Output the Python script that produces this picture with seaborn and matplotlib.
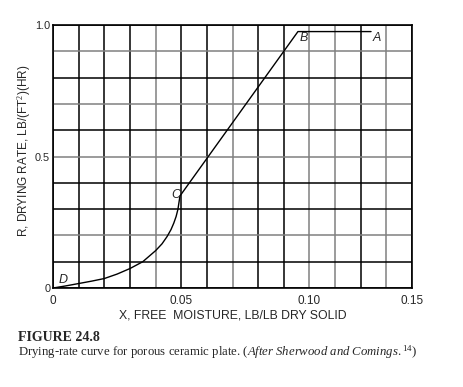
import matplotlib
matplotlib.use("Agg")
import matplotlib.pyplot as plt
import seaborn as sns
import numpy as np
import pandas as pd

# --- drying-rate curve ---
x_moist = [0.0, 0.005, 0.01, 0.015, 0.02, 0.025, 0.03, 0.035, 0.04, 0.0425, 0.0445,
           0.046, 0.0471, 0.048, 0.0487, 0.0495, 0.0955, 0.124]
rate = [0.0, 0.008, 0.017, 0.026, 0.036, 0.053, 0.074, 0.100, 0.142, 0.168, 0.196,
        0.222, 0.247, 0.272, 0.299, 0.350, 0.975, 0.975]

# point labels
pt_names = ['A', 'B', 'C', 'D']
pt_x = [0.1245, 0.0962, 0.0462, 0.0022]
pt_y = [0.952, 0.950, 0.355, 0.032]

# grid / ticks
x_grid = np.round(np.arange(0, 0.1401, 0.01), 2)
x_ticklabels = ['0', '', '', '', '', '0.05', '', '', '', '', '0.10', '', '', '', '0.15']
y_grid = np.round(np.arange(0, 1.001, 0.1), 1)
y_ticklabels = ['0', '', '', '', '', '0.5', '', '', '', '', '1.0']

# scan look: some rulings come out darker than others
x_grid_col = ['k', 'k', 'k', 'k', '0.5', 'k', 'k', '0.5', 'k', 'k', '0.5', '0.5', 'k', '0.5', 'k']
y_grid_col = ['k', 'k', '0.5', 'k', 'k', '0.5', 'k', '0.5', 'k', '0.5', 'k']

df = pd.DataFrame({'X': x_moist, 'R': rate})

sns.set_style("white")
plt.rcParams['font.family'] = ['Liberation Sans', 'DejaVu Sans']
plt.rcParams['mathtext.fontset'] = 'custom'
plt.rcParams['mathtext.rm'] = 'Liberation Serif'
plt.rcParams['mathtext.it'] = 'Liberation Serif:italic'

fig = plt.figure(figsize=(4.63, 3.87), dpi=100)
ax = fig.add_axes([0.1145, 0.2558, 0.7755, 0.6796])

sns.lineplot(data=df, x='X', y='R', sort=False, color='k', linewidth=1.0, ax=ax)

ax.set_xlim(0, 0.14)
ax.set_ylim(0, 1.0)
ax.set_xticks(x_grid)
ax.set_xticklabels(x_ticklabels, fontsize=8.5)
ax.set_yticks(y_grid)
ax.set_yticklabels(y_ticklabels, fontsize=7.8)
ax.tick_params(axis='x', length=0, pad=5)
ax.tick_params(axis='y', length=0, pad=2)

ax.grid(True, linewidth=1.1)
for gl, c in zip(ax.get_xgridlines(), x_grid_col):
    gl.set_color(c)
for gl, c in zip(ax.get_ygridlines(), y_grid_col):
    gl.set_color(c)
ax.set_axisbelow(True)

for s in ax.spines.values():
    s.set_color('k')
    s.set_linewidth(1.2)

for name, px, py in zip(pt_names, pt_x, pt_y):
    ax.text(px, py, name, fontsize=9, style='italic', ha='left', va='center')

ax.set_xlabel('X, FREE  MOISTURE, LB/LB DRY SOLID', fontsize=8.8, labelpad=2)
ax.set_ylabel('R, DRYING RATE, LB/(FT$^2$)(HR)', fontsize=8.5)
ax.yaxis.set_label_coords(-0.056, 0.52)

# caption
fig.text(0.039, 0.129, 'FIGURE 24.8', fontsize=10, fontweight='bold',
         family='Liberation Serif', va='center')
fig.text(0.039, 0.091,
         r'Drying-rate curve for porous ceramic plate. ($\mathit{After\ Sherwood\ and\ Comings.}^{14}$)',
         fontsize=9.2, family='Liberation Serif', va='center')

fig.savefig('out.png', dpi=100)
